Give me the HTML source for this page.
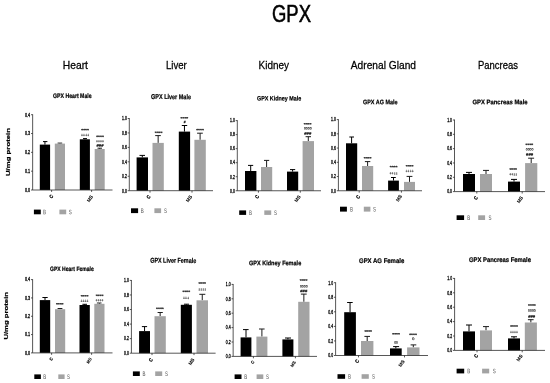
<!DOCTYPE html>
<html lang="en"><head><meta charset="utf-8"><title>GPX</title>
<style>html,body{margin:0;padding:0;background:#fff}svg{display:block}text{font-family:"Liberation Sans",sans-serif}.b{font-weight:bold}</style></head><body>
<svg width="550" height="383" viewBox="0 0 550 383">
<rect width="550" height="383" fill="#fff"/>
<text x="272.00" y="22.00" font-size="23" text-anchor="start" fill="#000" textLength="39.00" lengthAdjust="spacingAndGlyphs" stroke="#000" stroke-width="0.55">GPX</text>
<text x="62.80" y="69.20" font-size="11.8" text-anchor="start" fill="#000" textLength="25.20" lengthAdjust="spacingAndGlyphs" stroke="#000" stroke-width="0.28">Heart</text>
<text x="166.00" y="69.20" font-size="11.8" text-anchor="start" fill="#000" textLength="20.80" lengthAdjust="spacingAndGlyphs" stroke="#000" stroke-width="0.28">Liver</text>
<text x="258.60" y="69.20" font-size="11.8" text-anchor="start" fill="#000" textLength="30.40" lengthAdjust="spacingAndGlyphs" stroke="#000" stroke-width="0.28">Kidney</text>
<text x="350.80" y="69.20" font-size="11.8" text-anchor="start" fill="#000" textLength="65.20" lengthAdjust="spacingAndGlyphs" stroke="#000" stroke-width="0.28">Adrenal Gland</text>
<text x="478.00" y="69.20" font-size="11.8" text-anchor="start" fill="#000" textLength="40.00" lengthAdjust="spacingAndGlyphs" stroke="#000" stroke-width="0.28">Pancreas</text>
<text x="53.00" y="98.08" font-size="6.6" text-anchor="start" fill="#000" transform="rotate(0.05 53.00 98.08)" class="b" textLength="38.60" lengthAdjust="spacingAndGlyphs" stroke="#000" stroke-width="0.22">GPX Heart Male</text>
<path d="M44.95 144.60V141.60M43.00 141.60H47.40" stroke="#000" stroke-width="1" fill="none"/>
<rect x="39.80" y="144.60" width="10.30" height="45.40" fill="#000"/>
<path d="M59.90 143.60V143.10M57.60 143.10H62.20" stroke="#1c1c1c" stroke-width="1" fill="none"/>
<rect x="54.80" y="143.60" width="10.20" height="46.40" fill="#a3a3a3"/>
<path d="M84.85 139.30V138.60M83.00 138.60H87.00" stroke="#000" stroke-width="1" fill="none"/>
<rect x="79.80" y="139.30" width="10.10" height="50.70" fill="#000"/>
<path d="M99.70 149.00V148.20M97.50 148.20H102.00" stroke="#1c1c1c" stroke-width="1" fill="none"/>
<rect x="94.70" y="149.00" width="10.00" height="41.00" fill="#a3a3a3"/>
<path d="M32.65 114.30V190.00H112.50M31.05 190.00H32.65M31.05 171.18H32.65M31.05 152.35H32.65M31.05 133.53H32.65M31.05 114.70H32.65M51.60 190.00V191.90M91.60 190.00V191.90" stroke="#262626" stroke-width="0.78" fill="none"/>
<text x="30.15" y="191.80" font-size="5.0" text-anchor="end" fill="#000" textLength="5.20" lengthAdjust="spacingAndGlyphs" stroke="#000" stroke-width="0.3">0.0</text>
<text x="30.15" y="172.98" font-size="5.0" text-anchor="end" fill="#000" textLength="5.20" lengthAdjust="spacingAndGlyphs" stroke="#000" stroke-width="0.3">0.1</text>
<text x="30.15" y="154.15" font-size="5.0" text-anchor="end" fill="#000" textLength="5.20" lengthAdjust="spacingAndGlyphs" stroke="#000" stroke-width="0.3">0.2</text>
<text x="30.15" y="135.33" font-size="5.0" text-anchor="end" fill="#000" textLength="5.20" lengthAdjust="spacingAndGlyphs" stroke="#000" stroke-width="0.3">0.3</text>
<text x="30.15" y="116.50" font-size="5.0" text-anchor="end" fill="#000" textLength="5.20" lengthAdjust="spacingAndGlyphs" stroke="#000" stroke-width="0.3">0.4</text>
<text transform="translate(51.30 196.50) rotate(-55) scale(1.0)" font-size="5" class="b" text-anchor="middle" fill="#000" stroke="#000" stroke-width="0.22" textLength="3.2" lengthAdjust="spacingAndGlyphs" y="1.8">C</text>
<text transform="translate(89.80 198.60) rotate(-58) scale(1.0)" font-size="4.8" class="b" text-anchor="middle" fill="#000" stroke="#000" stroke-width="0.1" textLength="7" lengthAdjust="spacingAndGlyphs" y="1.7">MS</text>
<text x="85.10" y="131.81" font-size="4.4" text-anchor="middle" fill="#222" transform="rotate(0.05 85.10 131.81)" class="b" textLength="7.60" lengthAdjust="spacingAndGlyphs" stroke="#222" stroke-width="0.15">****</text>
<text transform="rotate(0.05 85.10 135.74)" x="81.30" y="135.74" font-size="2.9" fill="#333" stroke="#333" stroke-width="0.08" class="b" style="font-family:'Liberation Serif',serif" textLength="7.6" lengthAdjust="spacing">‡‡‡‡</text>
<text x="100.00" y="138.61" font-size="4.4" text-anchor="middle" fill="#222" transform="rotate(0.05 100.00 138.61)" class="b" textLength="7.60" lengthAdjust="spacingAndGlyphs" stroke="#222" stroke-width="0.15">****</text>
<text transform="rotate(0.05 100.00 142.04)" x="96.20" y="142.04" font-size="2.9" fill="#333" stroke="#333" stroke-width="0.08" class="b" style="font-family:'Liberation Serif',serif" textLength="7.6" lengthAdjust="spacing">‡‡‡‡</text>
<text x="100.00" y="146.52" font-size="3.3" text-anchor="middle" fill="#222" transform="rotate(0.05 100.00 146.52)" class="b" textLength="7.00" lengthAdjust="spacingAndGlyphs" stroke="#222" stroke-width="0.25">###</text>
<rect x="33.90" y="209.60" width="6.90" height="4.70" fill="#000"/>
<rect x="59.40" y="209.60" width="6.80" height="4.70" fill="#a3a3a3"/>
<text x="44.50" y="214.25" font-size="6.5" text-anchor="middle" fill="#555" transform="rotate(0.05 44.50 214.25)" textLength="3.00" lengthAdjust="spacingAndGlyphs">B</text>
<text x="70.20" y="214.25" font-size="6.5" text-anchor="middle" fill="#555" transform="rotate(0.05 70.20 214.25)" textLength="3.00" lengthAdjust="spacingAndGlyphs">S</text>
<text x="151.00" y="99.12" font-size="7.0" text-anchor="start" fill="#000" transform="rotate(0.05 151.00 99.12)" class="b" textLength="40.00" lengthAdjust="spacingAndGlyphs" stroke="#000" stroke-width="0.22">GPX Liver Male</text>
<path d="M142.30 157.40V155.40M139.50 155.40H145.00" stroke="#000" stroke-width="1" fill="none"/>
<rect x="136.60" y="157.40" width="11.40" height="33.30" fill="#000"/>
<path d="M158.15 142.90V135.60M155.20 135.60H160.80" stroke="#1c1c1c" stroke-width="1" fill="none"/>
<rect x="152.50" y="142.90" width="11.30" height="47.80" fill="#a3a3a3"/>
<path d="M184.45 131.60V125.50M181.80 125.50H187.20" stroke="#000" stroke-width="1" fill="none"/>
<rect x="178.80" y="131.60" width="11.30" height="59.10" fill="#000"/>
<path d="M200.10 139.80V133.20M197.10 133.20H202.80" stroke="#1c1c1c" stroke-width="1" fill="none"/>
<rect x="194.40" y="139.80" width="11.40" height="50.90" fill="#a3a3a3"/>
<path d="M129.30 118.10V190.70H213.00M127.70 190.70H129.30M127.70 176.26H129.30M127.70 161.82H129.30M127.70 147.38H129.30M127.70 132.94H129.30M127.70 118.50H129.30M150.00 190.70V192.60M192.00 190.70V192.60" stroke="#262626" stroke-width="0.78" fill="none"/>
<text x="126.80" y="192.50" font-size="5.0" text-anchor="end" fill="#000" textLength="4.80" lengthAdjust="spacingAndGlyphs" stroke="#000" stroke-width="0.3">0.0</text>
<text x="126.80" y="178.06" font-size="5.0" text-anchor="end" fill="#000" textLength="4.80" lengthAdjust="spacingAndGlyphs" stroke="#000" stroke-width="0.3">0.2</text>
<text x="126.80" y="163.62" font-size="5.0" text-anchor="end" fill="#000" textLength="4.80" lengthAdjust="spacingAndGlyphs" stroke="#000" stroke-width="0.3">0.4</text>
<text x="126.80" y="149.18" font-size="5.0" text-anchor="end" fill="#000" textLength="4.80" lengthAdjust="spacingAndGlyphs" stroke="#000" stroke-width="0.3">0.6</text>
<text x="126.80" y="134.74" font-size="5.0" text-anchor="end" fill="#000" textLength="4.80" lengthAdjust="spacingAndGlyphs" stroke="#000" stroke-width="0.3">0.8</text>
<text x="126.80" y="120.30" font-size="5.0" text-anchor="end" fill="#000" textLength="4.80" lengthAdjust="spacingAndGlyphs" stroke="#000" stroke-width="0.3">1.0</text>
<text transform="translate(148.50 196.80) rotate(-55) scale(1.0)" font-size="5" class="b" text-anchor="middle" fill="#000" stroke="#000" stroke-width="0.22" textLength="3.2" lengthAdjust="spacingAndGlyphs" y="1.8">C</text>
<text transform="translate(189.00 198.60) rotate(-58) scale(1.0)" font-size="4.8" class="b" text-anchor="middle" fill="#000" stroke="#000" stroke-width="0.1" textLength="7" lengthAdjust="spacingAndGlyphs" y="1.7">MS</text>
<text x="158.60" y="134.41" font-size="4.4" text-anchor="middle" fill="#222" transform="rotate(0.05 158.60 134.41)" class="b" textLength="7.60" lengthAdjust="spacingAndGlyphs" stroke="#222" stroke-width="0.15">****</text>
<text x="184.40" y="120.01" font-size="4.4" text-anchor="middle" fill="#222" transform="rotate(0.05 184.40 120.01)" class="b" textLength="7.60" lengthAdjust="spacingAndGlyphs" stroke="#222" stroke-width="0.15">****</text>
<text x="184.60" y="123.12" font-size="3.3" text-anchor="middle" fill="#222" transform="rotate(0.05 184.60 123.12)" class="b" stroke="#222" stroke-width="0.25">#</text>
<text x="200.00" y="131.81" font-size="4.4" text-anchor="middle" fill="#222" transform="rotate(0.05 200.00 131.81)" class="b" textLength="7.60" lengthAdjust="spacingAndGlyphs" stroke="#222" stroke-width="0.15">****</text>
<rect x="131.00" y="208.30" width="7.10" height="4.80" fill="#000"/>
<rect x="154.40" y="208.30" width="6.70" height="4.80" fill="#a3a3a3"/>
<text x="142.20" y="213.00" font-size="6.5" text-anchor="middle" fill="#555" transform="rotate(0.05 142.20 213.00)" textLength="3.00" lengthAdjust="spacingAndGlyphs">B</text>
<text x="165.60" y="213.00" font-size="6.5" text-anchor="middle" fill="#555" transform="rotate(0.05 165.60 213.00)" textLength="3.00" lengthAdjust="spacingAndGlyphs">S</text>
<text x="257.00" y="100.45" font-size="6.3" text-anchor="start" fill="#000" transform="rotate(0.05 257.00 100.45)" class="b" textLength="44.20" lengthAdjust="spacingAndGlyphs" stroke="#000" stroke-width="0.22">GPX Kidney Male</text>
<path d="M250.70 171.00V165.40M248.00 165.40H253.20" stroke="#000" stroke-width="1" fill="none"/>
<rect x="245.00" y="171.00" width="11.40" height="19.75" fill="#000"/>
<path d="M266.60 167.00V160.40M264.00 160.40H269.20" stroke="#1c1c1c" stroke-width="1" fill="none"/>
<rect x="261.00" y="167.00" width="11.20" height="23.75" fill="#a3a3a3"/>
<path d="M292.60 171.60V169.60M290.00 169.60H295.20" stroke="#000" stroke-width="1" fill="none"/>
<rect x="287.00" y="171.60" width="11.20" height="19.15" fill="#000"/>
<path d="M308.30 141.10V136.70M305.60 136.70H311.00" stroke="#1c1c1c" stroke-width="1" fill="none"/>
<rect x="302.60" y="141.10" width="11.40" height="49.65" fill="#a3a3a3"/>
<path d="M237.30 120.20V190.75H321.00M235.70 190.75H237.30M235.70 176.72H237.30M235.70 162.69H237.30M235.70 148.66H237.30M235.70 134.63H237.30M235.70 120.60H237.30M258.40 190.75V192.65M300.30 190.75V192.65" stroke="#262626" stroke-width="0.78" fill="none"/>
<text x="234.80" y="192.55" font-size="5.0" text-anchor="end" fill="#000" textLength="4.80" lengthAdjust="spacingAndGlyphs" stroke="#000" stroke-width="0.3">0.0</text>
<text x="234.80" y="178.52" font-size="5.0" text-anchor="end" fill="#000" textLength="4.80" lengthAdjust="spacingAndGlyphs" stroke="#000" stroke-width="0.3">0.2</text>
<text x="234.80" y="164.49" font-size="5.0" text-anchor="end" fill="#000" textLength="4.80" lengthAdjust="spacingAndGlyphs" stroke="#000" stroke-width="0.3">0.4</text>
<text x="234.80" y="150.46" font-size="5.0" text-anchor="end" fill="#000" textLength="4.80" lengthAdjust="spacingAndGlyphs" stroke="#000" stroke-width="0.3">0.6</text>
<text x="234.80" y="136.43" font-size="5.0" text-anchor="end" fill="#000" textLength="4.80" lengthAdjust="spacingAndGlyphs" stroke="#000" stroke-width="0.3">0.8</text>
<text x="234.80" y="122.40" font-size="5.0" text-anchor="end" fill="#000" textLength="4.80" lengthAdjust="spacingAndGlyphs" stroke="#000" stroke-width="0.3">1.0</text>
<text transform="translate(257.00 196.60) rotate(-55) scale(1.0)" font-size="5" class="b" text-anchor="middle" fill="#000" stroke="#000" stroke-width="0.22" textLength="3.2" lengthAdjust="spacingAndGlyphs" y="1.8">C</text>
<text transform="translate(297.50 198.60) rotate(-58) scale(1.0)" font-size="4.8" class="b" text-anchor="middle" fill="#000" stroke="#000" stroke-width="0.1" textLength="7" lengthAdjust="spacingAndGlyphs" y="1.7">MS</text>
<text x="307.60" y="126.11" font-size="4.4" text-anchor="middle" fill="#222" transform="rotate(0.05 307.60 126.11)" class="b" textLength="7.60" lengthAdjust="spacingAndGlyphs" stroke="#222" stroke-width="0.15">****</text>
<text x="307.80" y="129.59" font-size="4.5" text-anchor="middle" fill="#222" transform="rotate(0.05 307.80 129.59)" textLength="7.80" lengthAdjust="spacingAndGlyphs" stroke="#222" stroke-width="0.18">oooo</text>
<text x="307.80" y="134.42" font-size="3.3" text-anchor="middle" fill="#222" transform="rotate(0.05 307.80 134.42)" class="b" textLength="7.00" lengthAdjust="spacingAndGlyphs" stroke="#222" stroke-width="0.25">###</text>
<rect x="239.20" y="210.40" width="6.90" height="4.50" fill="#000"/>
<rect x="264.30" y="210.40" width="6.90" height="4.50" fill="#a3a3a3"/>
<text x="250.50" y="214.95" font-size="6.5" text-anchor="middle" fill="#555" transform="rotate(0.05 250.50 214.95)" textLength="3.00" lengthAdjust="spacingAndGlyphs">B</text>
<text x="275.60" y="214.95" font-size="6.5" text-anchor="middle" fill="#555" transform="rotate(0.05 275.60 214.95)" textLength="3.00" lengthAdjust="spacingAndGlyphs">S</text>
<text x="363.00" y="104.25" font-size="6.5" text-anchor="start" fill="#000" transform="rotate(0.05 363.00 104.25)" class="b" textLength="34.60" lengthAdjust="spacingAndGlyphs" stroke="#000" stroke-width="0.22">GPX AG Male</text>
<path d="M351.60 143.30V137.00M349.30 137.00H354.00" stroke="#000" stroke-width="1" fill="none"/>
<rect x="346.00" y="143.30" width="11.20" height="47.45" fill="#000"/>
<path d="M367.60 166.00V161.60M364.90 161.60H370.30" stroke="#1c1c1c" stroke-width="1" fill="none"/>
<rect x="362.00" y="166.00" width="11.20" height="24.75" fill="#a3a3a3"/>
<path d="M393.50 180.60V177.50M391.00 177.50H395.80" stroke="#000" stroke-width="1" fill="none"/>
<rect x="388.10" y="180.60" width="10.80" height="10.15" fill="#000"/>
<path d="M409.50 181.90V176.40M406.60 176.40H412.40" stroke="#1c1c1c" stroke-width="1" fill="none"/>
<rect x="404.00" y="181.90" width="11.00" height="8.85" fill="#a3a3a3"/>
<path d="M338.40 119.20V190.75H422.00M336.80 190.75H338.40M336.80 176.52H338.40M336.80 162.29H338.40M336.80 148.06H338.40M336.80 133.83H338.40M336.80 119.60H338.40M359.20 190.75V192.65M401.40 190.75V192.65" stroke="#262626" stroke-width="0.78" fill="none"/>
<text x="335.90" y="192.55" font-size="5.0" text-anchor="end" fill="#000" textLength="4.80" lengthAdjust="spacingAndGlyphs" stroke="#000" stroke-width="0.3">0.0</text>
<text x="335.90" y="178.32" font-size="5.0" text-anchor="end" fill="#000" textLength="4.80" lengthAdjust="spacingAndGlyphs" stroke="#000" stroke-width="0.3">0.2</text>
<text x="335.90" y="164.09" font-size="5.0" text-anchor="end" fill="#000" textLength="4.80" lengthAdjust="spacingAndGlyphs" stroke="#000" stroke-width="0.3">0.4</text>
<text x="335.90" y="149.86" font-size="5.0" text-anchor="end" fill="#000" textLength="4.80" lengthAdjust="spacingAndGlyphs" stroke="#000" stroke-width="0.3">0.6</text>
<text x="335.90" y="135.63" font-size="5.0" text-anchor="end" fill="#000" textLength="4.80" lengthAdjust="spacingAndGlyphs" stroke="#000" stroke-width="0.3">0.8</text>
<text x="335.90" y="121.40" font-size="5.0" text-anchor="end" fill="#000" textLength="4.80" lengthAdjust="spacingAndGlyphs" stroke="#000" stroke-width="0.3">1.0</text>
<text transform="translate(358.00 196.80) rotate(-55) scale(1.0)" font-size="5" class="b" text-anchor="middle" fill="#000" stroke="#000" stroke-width="0.22" textLength="3.2" lengthAdjust="spacingAndGlyphs" y="1.8">C</text>
<text transform="translate(398.80 198.20) rotate(-58) scale(1.0)" font-size="4.8" class="b" text-anchor="middle" fill="#000" stroke="#000" stroke-width="0.1" textLength="7" lengthAdjust="spacingAndGlyphs" y="1.7">MS</text>
<text x="367.60" y="160.11" font-size="4.4" text-anchor="middle" fill="#222" transform="rotate(0.05 367.60 160.11)" class="b" textLength="7.60" lengthAdjust="spacingAndGlyphs" stroke="#222" stroke-width="0.15">****</text>
<text x="393.60" y="168.71" font-size="4.4" text-anchor="middle" fill="#222" transform="rotate(0.05 393.60 168.71)" class="b" textLength="7.60" lengthAdjust="spacingAndGlyphs" stroke="#222" stroke-width="0.15">****</text>
<text transform="rotate(0.05 393.60 174.14)" x="389.80" y="174.14" font-size="2.9" fill="#333" stroke="#333" stroke-width="0.08" class="b" style="font-family:'Liberation Serif',serif" textLength="7.6" lengthAdjust="spacing">‡‡‡‡</text>
<text x="409.60" y="168.01" font-size="4.4" text-anchor="middle" fill="#222" transform="rotate(0.05 409.60 168.01)" class="b" textLength="7.60" lengthAdjust="spacingAndGlyphs" stroke="#222" stroke-width="0.15">****</text>
<text transform="rotate(0.05 409.60 171.74)" x="405.80" y="171.74" font-size="2.9" fill="#333" stroke="#333" stroke-width="0.08" class="b" style="font-family:'Liberation Serif',serif" textLength="7.6" lengthAdjust="spacing">‡‡‡‡</text>
<rect x="340.00" y="206.70" width="6.90" height="4.90" fill="#000"/>
<rect x="363.80" y="206.70" width="6.60" height="4.90" fill="#a3a3a3"/>
<text x="351.50" y="211.45" font-size="6.5" text-anchor="middle" fill="#555" transform="rotate(0.05 351.50 211.45)" textLength="3.00" lengthAdjust="spacingAndGlyphs">B</text>
<text x="374.50" y="211.45" font-size="6.5" text-anchor="middle" fill="#555" transform="rotate(0.05 374.50 211.45)" textLength="3.00" lengthAdjust="spacingAndGlyphs">S</text>
<text x="472.40" y="104.25" font-size="6.6" text-anchor="start" fill="#000" transform="rotate(0.05 472.40 104.25)" class="b" textLength="55.20" lengthAdjust="spacingAndGlyphs" stroke="#000" stroke-width="0.22">GPX Pancreas Male</text>
<path d="M469.00 174.00V172.40M466.00 172.40H472.00" stroke="#000" stroke-width="1" fill="none"/>
<rect x="463.00" y="174.00" width="12.00" height="17.60" fill="#000"/>
<path d="M486.00 174.00V170.40M483.00 170.40H489.00" stroke="#1c1c1c" stroke-width="1" fill="none"/>
<rect x="480.00" y="174.00" width="12.00" height="17.60" fill="#a3a3a3"/>
<path d="M514.00 181.60V179.40M511.00 179.40H517.00" stroke="#000" stroke-width="1" fill="none"/>
<rect x="508.00" y="181.60" width="12.00" height="10.00" fill="#000"/>
<path d="M531.20 163.10V158.20M528.10 158.20H534.10" stroke="#1c1c1c" stroke-width="1" fill="none"/>
<rect x="525.10" y="163.10" width="12.20" height="28.50" fill="#a3a3a3"/>
<path d="M454.50 119.60V191.60H545.00M452.90 191.60H454.50M452.90 177.28H454.50M452.90 162.96H454.50M452.90 148.64H454.50M452.90 134.32H454.50M452.90 120.00H454.50M476.80 191.60V193.50M522.20 191.60V193.50" stroke="#262626" stroke-width="0.78" fill="none"/>
<text x="452.00" y="193.40" font-size="5.0" text-anchor="end" fill="#000" textLength="4.80" lengthAdjust="spacingAndGlyphs" stroke="#000" stroke-width="0.3">0.0</text>
<text x="452.00" y="179.08" font-size="5.0" text-anchor="end" fill="#000" textLength="4.80" lengthAdjust="spacingAndGlyphs" stroke="#000" stroke-width="0.3">0.2</text>
<text x="452.00" y="164.76" font-size="5.0" text-anchor="end" fill="#000" textLength="4.80" lengthAdjust="spacingAndGlyphs" stroke="#000" stroke-width="0.3">0.4</text>
<text x="452.00" y="150.44" font-size="5.0" text-anchor="end" fill="#000" textLength="4.80" lengthAdjust="spacingAndGlyphs" stroke="#000" stroke-width="0.3">0.6</text>
<text x="452.00" y="136.12" font-size="5.0" text-anchor="end" fill="#000" textLength="4.80" lengthAdjust="spacingAndGlyphs" stroke="#000" stroke-width="0.3">0.8</text>
<text x="452.00" y="121.80" font-size="5.0" text-anchor="end" fill="#000" textLength="4.80" lengthAdjust="spacingAndGlyphs" stroke="#000" stroke-width="0.3">1.0</text>
<text transform="translate(475.80 198.00) rotate(-55) scale(1.0)" font-size="5" class="b" text-anchor="middle" fill="#000" stroke="#000" stroke-width="0.22" textLength="3.2" lengthAdjust="spacingAndGlyphs" y="1.8">C</text>
<text transform="translate(519.80 199.60) rotate(-58) scale(1.0)" font-size="4.8" class="b" text-anchor="middle" fill="#000" stroke="#000" stroke-width="0.1" textLength="7" lengthAdjust="spacingAndGlyphs" y="1.7">MS</text>
<text x="513.20" y="171.31" font-size="4.4" text-anchor="middle" fill="#222" transform="rotate(0.05 513.20 171.31)" class="b" textLength="7.60" lengthAdjust="spacingAndGlyphs" stroke="#222" stroke-width="0.15">****</text>
<text transform="rotate(0.05 513.20 175.14)" x="509.40" y="175.14" font-size="2.9" fill="#333" stroke="#333" stroke-width="0.08" class="b" style="font-family:'Liberation Serif',serif" textLength="7.6" lengthAdjust="spacing">‡‡‡‡</text>
<text x="529.40" y="146.51" font-size="4.4" text-anchor="middle" fill="#222" transform="rotate(0.05 529.40 146.51)" class="b" textLength="7.60" lengthAdjust="spacingAndGlyphs" stroke="#222" stroke-width="0.15">****</text>
<text x="529.60" y="150.49" font-size="4.5" text-anchor="middle" fill="#222" transform="rotate(0.05 529.60 150.49)" textLength="7.80" lengthAdjust="spacingAndGlyphs" stroke="#222" stroke-width="0.18">oooo</text>
<text x="529.60" y="155.62" font-size="3.3" text-anchor="middle" fill="#222" transform="rotate(0.05 529.60 155.62)" class="b" textLength="7.00" lengthAdjust="spacingAndGlyphs" stroke="#222" stroke-width="0.25">###</text>
<rect x="456.60" y="215.30" width="7.50" height="4.70" fill="#000"/>
<rect x="478.20" y="215.30" width="6.90" height="4.70" fill="#a3a3a3"/>
<text x="468.70" y="219.95" font-size="6.5" text-anchor="middle" fill="#555" transform="rotate(0.05 468.70 219.95)" textLength="3.00" lengthAdjust="spacingAndGlyphs">B</text>
<text x="489.90" y="219.95" font-size="6.5" text-anchor="middle" fill="#555" transform="rotate(0.05 489.90 219.95)" textLength="3.00" lengthAdjust="spacingAndGlyphs">S</text>
<text x="50.00" y="271.00" font-size="6.3" text-anchor="start" fill="#000" transform="rotate(0.05 50.00 271.00)" class="b" textLength="43.80" lengthAdjust="spacingAndGlyphs" stroke="#000" stroke-width="0.22">GPX Heart Female</text>
<path d="M45.00 300.10V297.50M42.40 297.50H47.70" stroke="#000" stroke-width="1" fill="none"/>
<rect x="39.80" y="300.10" width="10.40" height="52.80" fill="#000"/>
<path d="M60.10 309.20V308.50M57.60 308.50H62.40" stroke="#1c1c1c" stroke-width="1" fill="none"/>
<rect x="55.00" y="309.20" width="10.20" height="43.70" fill="#a3a3a3"/>
<path d="M84.65 305.00V304.30M82.40 304.30H87.00" stroke="#000" stroke-width="1" fill="none"/>
<rect x="79.50" y="305.00" width="10.30" height="47.90" fill="#000"/>
<path d="M99.40 303.80V303.00M96.90 303.00H101.50" stroke="#1c1c1c" stroke-width="1" fill="none"/>
<rect x="94.30" y="303.80" width="10.20" height="49.10" fill="#a3a3a3"/>
<path d="M32.60 279.20V352.90H112.50M31.00 352.90H32.60M31.00 334.57H32.60M31.00 316.25H32.60M31.00 297.93H32.60M31.00 279.60H32.60M51.60 352.90V354.80M91.60 352.90V354.80" stroke="#262626" stroke-width="0.78" fill="none"/>
<text x="30.10" y="354.70" font-size="5.0" text-anchor="end" fill="#000" textLength="5.20" lengthAdjust="spacingAndGlyphs" stroke="#000" stroke-width="0.3">0.0</text>
<text x="30.10" y="336.38" font-size="5.0" text-anchor="end" fill="#000" textLength="5.20" lengthAdjust="spacingAndGlyphs" stroke="#000" stroke-width="0.3">0.1</text>
<text x="30.10" y="318.05" font-size="5.0" text-anchor="end" fill="#000" textLength="5.20" lengthAdjust="spacingAndGlyphs" stroke="#000" stroke-width="0.3">0.2</text>
<text x="30.10" y="299.73" font-size="5.0" text-anchor="end" fill="#000" textLength="5.20" lengthAdjust="spacingAndGlyphs" stroke="#000" stroke-width="0.3">0.3</text>
<text x="30.10" y="281.40" font-size="5.0" text-anchor="end" fill="#000" textLength="5.20" lengthAdjust="spacingAndGlyphs" stroke="#000" stroke-width="0.3">0.4</text>
<text transform="translate(51.00 359.00) rotate(-55) scale(0.85)" font-size="5" class="b" text-anchor="middle" fill="#000" stroke="#000" stroke-width="0.22" textLength="3.2" lengthAdjust="spacingAndGlyphs" y="1.8">C</text>
<text transform="translate(89.10 360.60) rotate(-58) scale(0.85)" font-size="4.8" class="b" text-anchor="middle" fill="#000" stroke="#000" stroke-width="0.1" textLength="7" lengthAdjust="spacingAndGlyphs" y="1.7">MS</text>
<text x="59.70" y="306.01" font-size="4.4" text-anchor="middle" fill="#222" transform="rotate(0.05 59.70 306.01)" class="b" textLength="7.60" lengthAdjust="spacingAndGlyphs" stroke="#222" stroke-width="0.15">****</text>
<text x="84.50" y="298.01" font-size="4.4" text-anchor="middle" fill="#222" transform="rotate(0.05 84.50 298.01)" class="b" textLength="7.60" lengthAdjust="spacingAndGlyphs" stroke="#222" stroke-width="0.15">****</text>
<text transform="rotate(0.05 84.50 301.54)" x="80.70" y="301.54" font-size="2.9" fill="#333" stroke="#333" stroke-width="0.08" class="b" style="font-family:'Liberation Serif',serif" textLength="7.6" lengthAdjust="spacing">‡‡‡‡</text>
<text x="99.50" y="297.41" font-size="4.4" text-anchor="middle" fill="#222" transform="rotate(0.05 99.50 297.41)" class="b" textLength="7.60" lengthAdjust="spacingAndGlyphs" stroke="#222" stroke-width="0.15">****</text>
<text transform="rotate(0.05 99.50 300.94)" x="95.70" y="300.94" font-size="2.9" fill="#333" stroke="#333" stroke-width="0.08" class="b" style="font-family:'Liberation Serif',serif" textLength="7.6" lengthAdjust="spacing">‡‡‡‡</text>
<rect x="34.30" y="374.40" width="6.60" height="4.60" fill="#000"/>
<rect x="58.30" y="374.40" width="6.30" height="4.60" fill="#a3a3a3"/>
<text x="44.80" y="379.00" font-size="6.5" text-anchor="middle" fill="#555" transform="rotate(0.05 44.80 379.00)" textLength="3.00" lengthAdjust="spacingAndGlyphs">B</text>
<text x="68.40" y="379.00" font-size="6.5" text-anchor="middle" fill="#555" transform="rotate(0.05 68.40 379.00)" textLength="3.00" lengthAdjust="spacingAndGlyphs">S</text>
<text x="150.20" y="262.85" font-size="7.0" text-anchor="start" fill="#000" transform="rotate(0.05 150.20 262.85)" class="b" textLength="46.00" lengthAdjust="spacingAndGlyphs" stroke="#000" stroke-width="0.22">GPX Liver Female</text>
<path d="M144.55 331.10V326.60M141.90 326.60H147.10" stroke="#000" stroke-width="1" fill="none"/>
<rect x="139.10" y="331.10" width="10.90" height="22.10" fill="#000"/>
<path d="M160.15 316.20V312.50M157.60 312.50H162.80" stroke="#1c1c1c" stroke-width="1" fill="none"/>
<rect x="154.50" y="316.20" width="11.30" height="37.00" fill="#a3a3a3"/>
<path d="M186.35 304.80V304.20M184.00 304.20H189.00" stroke="#000" stroke-width="1" fill="none"/>
<rect x="180.80" y="304.80" width="11.10" height="48.40" fill="#000"/>
<path d="M202.25 300.30V294.30M199.30 294.30H205.30" stroke="#1c1c1c" stroke-width="1" fill="none"/>
<rect x="196.50" y="300.30" width="11.50" height="52.90" fill="#a3a3a3"/>
<path d="M131.40 280.00V353.20H215.60M129.80 353.20H131.40M129.80 338.64H131.40M129.80 324.08H131.40M129.80 309.52H131.40M129.80 294.96H131.40M129.80 280.40H131.40M152.00 353.20V355.10M194.00 353.20V355.10" stroke="#262626" stroke-width="0.78" fill="none"/>
<text x="128.90" y="355.00" font-size="5.0" text-anchor="end" fill="#000" textLength="4.80" lengthAdjust="spacingAndGlyphs" stroke="#000" stroke-width="0.3">0.0</text>
<text x="128.90" y="340.44" font-size="5.0" text-anchor="end" fill="#000" textLength="4.80" lengthAdjust="spacingAndGlyphs" stroke="#000" stroke-width="0.3">0.2</text>
<text x="128.90" y="325.88" font-size="5.0" text-anchor="end" fill="#000" textLength="4.80" lengthAdjust="spacingAndGlyphs" stroke="#000" stroke-width="0.3">0.4</text>
<text x="128.90" y="311.32" font-size="5.0" text-anchor="end" fill="#000" textLength="4.80" lengthAdjust="spacingAndGlyphs" stroke="#000" stroke-width="0.3">0.6</text>
<text x="128.90" y="296.76" font-size="5.0" text-anchor="end" fill="#000" textLength="4.80" lengthAdjust="spacingAndGlyphs" stroke="#000" stroke-width="0.3">0.8</text>
<text x="128.90" y="282.20" font-size="5.0" text-anchor="end" fill="#000" textLength="4.80" lengthAdjust="spacingAndGlyphs" stroke="#000" stroke-width="0.3">1.0</text>
<text transform="translate(150.70 359.90) rotate(-55) scale(1.0)" font-size="5" class="b" text-anchor="middle" fill="#000" stroke="#000" stroke-width="0.22" textLength="3.2" lengthAdjust="spacingAndGlyphs" y="1.8">C</text>
<text transform="translate(191.40 361.60) rotate(-58) scale(1.0)" font-size="4.8" class="b" text-anchor="middle" fill="#000" stroke="#000" stroke-width="0.1" textLength="7" lengthAdjust="spacingAndGlyphs" y="1.7">MS</text>
<text x="159.90" y="310.61" font-size="4.4" text-anchor="middle" fill="#222" transform="rotate(0.05 159.90 310.61)" class="b" textLength="7.60" lengthAdjust="spacingAndGlyphs" stroke="#222" stroke-width="0.15">****</text>
<text x="186.30" y="293.61" font-size="4.4" text-anchor="middle" fill="#222" transform="rotate(0.05 186.30 293.61)" class="b" textLength="7.60" lengthAdjust="spacingAndGlyphs" stroke="#222" stroke-width="0.15">****</text>
<text transform="rotate(0.05 186.10 298.64)" x="183.25" y="298.64" font-size="2.9" fill="#333" stroke="#333" stroke-width="0.08" class="b" style="font-family:'Liberation Serif',serif" textLength="5.7" lengthAdjust="spacing">‡‡‡</text>
<text x="202.20" y="285.31" font-size="4.4" text-anchor="middle" fill="#222" transform="rotate(0.05 202.20 285.31)" class="b" textLength="7.60" lengthAdjust="spacingAndGlyphs" stroke="#222" stroke-width="0.15">****</text>
<text transform="rotate(0.05 202.20 290.24)" x="198.40" y="290.24" font-size="2.9" fill="#333" stroke="#333" stroke-width="0.08" class="b" style="font-family:'Liberation Serif',serif" textLength="7.6" lengthAdjust="spacing">‡‡‡‡</text>
<rect x="132.90" y="371.40" width="6.90" height="4.60" fill="#000"/>
<rect x="155.20" y="371.40" width="7.00" height="4.60" fill="#a3a3a3"/>
<text x="144.10" y="376.00" font-size="6.5" text-anchor="middle" fill="#555" transform="rotate(0.05 144.10 376.00)" textLength="3.00" lengthAdjust="spacingAndGlyphs">B</text>
<text x="166.40" y="376.00" font-size="6.5" text-anchor="middle" fill="#555" transform="rotate(0.05 166.40 376.00)" textLength="3.00" lengthAdjust="spacingAndGlyphs">S</text>
<text x="249.00" y="265.25" font-size="6.6" text-anchor="start" fill="#000" transform="rotate(0.05 249.00 265.25)" class="b" textLength="52.20" lengthAdjust="spacingAndGlyphs" stroke="#000" stroke-width="0.22">GPX Kidney Female</text>
<path d="M246.00 337.40V329.60M243.00 329.60H248.60" stroke="#000" stroke-width="1" fill="none"/>
<rect x="240.60" y="337.40" width="10.80" height="19.00" fill="#000"/>
<path d="M261.90 336.60V329.00M259.00 329.00H264.60" stroke="#1c1c1c" stroke-width="1" fill="none"/>
<rect x="256.40" y="336.60" width="11.00" height="19.80" fill="#a3a3a3"/>
<path d="M287.90 339.40V338.00M285.00 338.00H291.00" stroke="#000" stroke-width="1" fill="none"/>
<rect x="282.40" y="339.40" width="11.00" height="17.00" fill="#000"/>
<path d="M303.85 301.80V294.10M300.90 294.10H306.70" stroke="#1c1c1c" stroke-width="1" fill="none"/>
<rect x="298.20" y="301.80" width="11.30" height="54.60" fill="#a3a3a3"/>
<path d="M233.15 284.00V356.40H317.00M231.55 356.40H233.15M231.55 342.00H233.15M231.55 327.60H233.15M231.55 313.20H233.15M231.55 298.80H233.15M231.55 284.40H233.15M253.40 356.40V358.30M295.40 356.40V358.30" stroke="#262626" stroke-width="0.78" fill="none"/>
<text x="230.65" y="358.20" font-size="5.0" text-anchor="end" fill="#000" textLength="4.80" lengthAdjust="spacingAndGlyphs" stroke="#000" stroke-width="0.3">0.0</text>
<text x="230.65" y="343.80" font-size="5.0" text-anchor="end" fill="#000" textLength="4.80" lengthAdjust="spacingAndGlyphs" stroke="#000" stroke-width="0.3">0.2</text>
<text x="230.65" y="329.40" font-size="5.0" text-anchor="end" fill="#000" textLength="4.80" lengthAdjust="spacingAndGlyphs" stroke="#000" stroke-width="0.3">0.4</text>
<text x="230.65" y="315.00" font-size="5.0" text-anchor="end" fill="#000" textLength="4.80" lengthAdjust="spacingAndGlyphs" stroke="#000" stroke-width="0.3">0.6</text>
<text x="230.65" y="300.60" font-size="5.0" text-anchor="end" fill="#000" textLength="4.80" lengthAdjust="spacingAndGlyphs" stroke="#000" stroke-width="0.3">0.8</text>
<text x="230.65" y="286.20" font-size="5.0" text-anchor="end" fill="#000" textLength="4.80" lengthAdjust="spacingAndGlyphs" stroke="#000" stroke-width="0.3">1.0</text>
<text transform="translate(252.40 362.30) rotate(-55) scale(0.88)" font-size="5" class="b" text-anchor="middle" fill="#000" stroke="#000" stroke-width="0.22" textLength="3.2" lengthAdjust="spacingAndGlyphs" y="1.8">C</text>
<text transform="translate(293.10 364.00) rotate(-58) scale(0.88)" font-size="4.8" class="b" text-anchor="middle" fill="#000" stroke="#000" stroke-width="0.1" textLength="7" lengthAdjust="spacingAndGlyphs" y="1.7">MS</text>
<text x="303.60" y="282.31" font-size="4.4" text-anchor="middle" fill="#222" transform="rotate(0.05 303.60 282.31)" class="b" textLength="7.60" lengthAdjust="spacingAndGlyphs" stroke="#222" stroke-width="0.15">****</text>
<text x="303.80" y="287.59" font-size="4.5" text-anchor="middle" fill="#222" transform="rotate(0.05 303.80 287.59)" textLength="7.80" lengthAdjust="spacingAndGlyphs" stroke="#222" stroke-width="0.18">oooo</text>
<text x="303.80" y="292.12" font-size="3.3" text-anchor="middle" fill="#222" transform="rotate(0.05 303.80 292.12)" class="b" textLength="7.00" lengthAdjust="spacingAndGlyphs" stroke="#222" stroke-width="0.25">###</text>
<rect x="234.60" y="374.40" width="6.90" height="4.60" fill="#000"/>
<rect x="256.60" y="374.40" width="6.70" height="4.60" fill="#a3a3a3"/>
<text x="245.70" y="379.00" font-size="6.5" text-anchor="middle" fill="#555" transform="rotate(0.05 245.70 379.00)" textLength="3.00" lengthAdjust="spacingAndGlyphs">B</text>
<text x="267.50" y="379.00" font-size="6.5" text-anchor="middle" fill="#555" transform="rotate(0.05 267.50 379.00)" textLength="3.00" lengthAdjust="spacingAndGlyphs">S</text>
<text x="359.00" y="263.05" font-size="6.8" text-anchor="start" fill="#000" transform="rotate(0.05 359.00 263.05)" class="b" textLength="45.20" lengthAdjust="spacingAndGlyphs" stroke="#000" stroke-width="0.22">GPX AG Female</text>
<path d="M350.05 312.20V302.50M347.10 302.50H352.70" stroke="#000" stroke-width="1" fill="none"/>
<rect x="344.20" y="312.20" width="11.70" height="43.30" fill="#000"/>
<path d="M367.20 341.00V336.40M364.40 336.40H370.00" stroke="#1c1c1c" stroke-width="1" fill="none"/>
<rect x="361.00" y="341.00" width="12.40" height="14.50" fill="#a3a3a3"/>
<path d="M395.85 348.40V346.60M393.10 346.60H399.10" stroke="#000" stroke-width="1" fill="none"/>
<rect x="390.00" y="348.40" width="11.70" height="7.10" fill="#000"/>
<path d="M413.30 347.40V344.90M410.60 344.90H416.30" stroke="#1c1c1c" stroke-width="1" fill="none"/>
<rect x="407.10" y="347.40" width="12.40" height="8.10" fill="#a3a3a3"/>
<path d="M335.60 282.30V355.50H428.00M334.00 355.50H335.60M334.00 340.94H335.60M334.00 326.38H335.60M334.00 311.82H335.60M334.00 297.26H335.60M334.00 282.70H335.60M358.50 355.50V357.40M404.50 355.50V357.40" stroke="#262626" stroke-width="0.78" fill="none"/>
<text x="333.10" y="357.30" font-size="5.0" text-anchor="end" fill="#000" textLength="4.80" lengthAdjust="spacingAndGlyphs" stroke="#000" stroke-width="0.3">0.0</text>
<text x="333.10" y="342.74" font-size="5.0" text-anchor="end" fill="#000" textLength="4.80" lengthAdjust="spacingAndGlyphs" stroke="#000" stroke-width="0.3">0.2</text>
<text x="333.10" y="328.18" font-size="5.0" text-anchor="end" fill="#000" textLength="4.80" lengthAdjust="spacingAndGlyphs" stroke="#000" stroke-width="0.3">0.4</text>
<text x="333.10" y="313.62" font-size="5.0" text-anchor="end" fill="#000" textLength="4.80" lengthAdjust="spacingAndGlyphs" stroke="#000" stroke-width="0.3">0.6</text>
<text x="333.10" y="299.06" font-size="5.0" text-anchor="end" fill="#000" textLength="4.80" lengthAdjust="spacingAndGlyphs" stroke="#000" stroke-width="0.3">0.8</text>
<text x="333.10" y="284.50" font-size="5.0" text-anchor="end" fill="#000" textLength="4.80" lengthAdjust="spacingAndGlyphs" stroke="#000" stroke-width="0.3">1.0</text>
<text transform="translate(357.00 361.20) rotate(-55) scale(1.0)" font-size="5" class="b" text-anchor="middle" fill="#000" stroke="#000" stroke-width="0.22" textLength="3.2" lengthAdjust="spacingAndGlyphs" y="1.8">C</text>
<text transform="translate(401.50 363.30) rotate(-58) scale(1.0)" font-size="4.8" class="b" text-anchor="middle" fill="#000" stroke="#000" stroke-width="0.1" textLength="7" lengthAdjust="spacingAndGlyphs" y="1.7">MS</text>
<text x="368.20" y="333.21" font-size="4.4" text-anchor="middle" fill="#222" transform="rotate(0.05 368.20 333.21)" class="b" textLength="7.60" lengthAdjust="spacingAndGlyphs" stroke="#222" stroke-width="0.15">****</text>
<text x="396.10" y="336.01" font-size="4.4" text-anchor="middle" fill="#222" transform="rotate(0.05 396.10 336.01)" class="b" textLength="7.60" lengthAdjust="spacingAndGlyphs" stroke="#222" stroke-width="0.15">****</text>
<text x="396.10" y="343.69" font-size="4.5" text-anchor="middle" fill="#222" transform="rotate(0.05 396.10 343.69)" textLength="3.80" lengthAdjust="spacingAndGlyphs" stroke="#222" stroke-width="0.18">oo</text>
<text x="413.00" y="336.61" font-size="4.4" text-anchor="middle" fill="#222" transform="rotate(0.05 413.00 336.61)" class="b" textLength="7.60" lengthAdjust="spacingAndGlyphs" stroke="#222" stroke-width="0.15">****</text>
<text x="413.20" y="339.99" font-size="4.5" text-anchor="middle" fill="#222" transform="rotate(0.05 413.20 339.99)" stroke="#222" stroke-width="0.18">o</text>
<rect x="337.50" y="374.20" width="7.60" height="4.60" fill="#000"/>
<rect x="361.60" y="374.20" width="7.20" height="4.60" fill="#a3a3a3"/>
<text x="349.60" y="378.80" font-size="6.5" text-anchor="middle" fill="#555" transform="rotate(0.05 349.60 378.80)" textLength="3.00" lengthAdjust="spacingAndGlyphs">B</text>
<text x="373.60" y="378.80" font-size="6.5" text-anchor="middle" fill="#555" transform="rotate(0.05 373.60 378.80)" textLength="3.00" lengthAdjust="spacingAndGlyphs">S</text>
<text x="469.00" y="261.90" font-size="6.8" text-anchor="start" fill="#000" transform="rotate(0.05 469.00 261.90)" class="b" textLength="62.00" lengthAdjust="spacingAndGlyphs" stroke="#000" stroke-width="0.22">GPX Pancreas Female</text>
<path d="M469.00 331.40V325.00M466.00 325.00H472.00" stroke="#000" stroke-width="1" fill="none"/>
<rect x="463.00" y="331.40" width="12.00" height="19.00" fill="#000"/>
<path d="M486.00 330.40V326.60M483.00 326.60H489.00" stroke="#1c1c1c" stroke-width="1" fill="none"/>
<rect x="480.00" y="330.40" width="12.00" height="20.00" fill="#a3a3a3"/>
<path d="M514.00 338.40V336.80M511.00 336.80H517.00" stroke="#000" stroke-width="1" fill="none"/>
<rect x="508.00" y="338.40" width="12.00" height="12.00" fill="#000"/>
<path d="M530.85 322.50V319.70M527.90 319.70H533.60" stroke="#1c1c1c" stroke-width="1" fill="none"/>
<rect x="524.80" y="322.50" width="12.10" height="27.90" fill="#a3a3a3"/>
<path d="M454.60 278.00V350.40H545.00M453.00 350.40H454.60M453.00 336.00H454.60M453.00 321.60H454.60M453.00 307.20H454.60M453.00 292.80H454.60M453.00 278.40H454.60M477.00 350.40V352.30M522.20 350.40V352.30" stroke="#262626" stroke-width="0.78" fill="none"/>
<text x="452.10" y="352.20" font-size="5.0" text-anchor="end" fill="#000" textLength="4.80" lengthAdjust="spacingAndGlyphs" stroke="#000" stroke-width="0.3">0.0</text>
<text x="452.10" y="337.80" font-size="5.0" text-anchor="end" fill="#000" textLength="4.80" lengthAdjust="spacingAndGlyphs" stroke="#000" stroke-width="0.3">0.2</text>
<text x="452.10" y="323.40" font-size="5.0" text-anchor="end" fill="#000" textLength="4.80" lengthAdjust="spacingAndGlyphs" stroke="#000" stroke-width="0.3">0.4</text>
<text x="452.10" y="309.00" font-size="5.0" text-anchor="end" fill="#000" textLength="4.80" lengthAdjust="spacingAndGlyphs" stroke="#000" stroke-width="0.3">0.6</text>
<text x="452.10" y="294.60" font-size="5.0" text-anchor="end" fill="#000" textLength="4.80" lengthAdjust="spacingAndGlyphs" stroke="#000" stroke-width="0.3">0.8</text>
<text x="452.10" y="280.20" font-size="5.0" text-anchor="end" fill="#000" textLength="4.80" lengthAdjust="spacingAndGlyphs" stroke="#000" stroke-width="0.3">1.0</text>
<text transform="translate(475.90 356.00) rotate(-55) scale(1.0)" font-size="5" class="b" text-anchor="middle" fill="#000" stroke="#000" stroke-width="0.22" textLength="3.2" lengthAdjust="spacingAndGlyphs" y="1.8">C</text>
<text transform="translate(519.50 357.80) rotate(-58) scale(1.0)" font-size="4.8" class="b" text-anchor="middle" fill="#000" stroke="#000" stroke-width="0.1" textLength="7" lengthAdjust="spacingAndGlyphs" y="1.7">MS</text>
<text x="514.00" y="328.21" font-size="4.4" text-anchor="middle" fill="#222" transform="rotate(0.05 514.00 328.21)" class="b" textLength="7.60" lengthAdjust="spacingAndGlyphs" stroke="#222" stroke-width="0.15">****</text>
<text transform="rotate(0.05 514.00 332.74)" x="510.20" y="332.74" font-size="2.9" fill="#333" stroke="#333" stroke-width="0.08" class="b" style="font-family:'Liberation Serif',serif" textLength="7.6" lengthAdjust="spacing">‡‡‡‡</text>
<text x="531.90" y="307.31" font-size="4.4" text-anchor="middle" fill="#222" transform="rotate(0.05 531.90 307.31)" class="b" textLength="7.60" lengthAdjust="spacingAndGlyphs" stroke="#222" stroke-width="0.15">****</text>
<text x="531.90" y="311.69" font-size="4.5" text-anchor="middle" fill="#222" transform="rotate(0.05 531.90 311.69)" textLength="7.80" lengthAdjust="spacingAndGlyphs" stroke="#222" stroke-width="0.18">oooo</text>
<text x="531.70" y="317.42" font-size="3.3" text-anchor="middle" fill="#222" transform="rotate(0.05 531.70 317.42)" class="b" textLength="7.00" lengthAdjust="spacingAndGlyphs" stroke="#222" stroke-width="0.25">###</text>
<rect x="456.60" y="368.70" width="7.60" height="4.70" fill="#000"/>
<rect x="482.10" y="368.70" width="7.10" height="4.70" fill="#a3a3a3"/>
<text x="468.70" y="373.35" font-size="6.5" text-anchor="middle" fill="#555" transform="rotate(0.05 468.70 373.35)" textLength="3.00" lengthAdjust="spacingAndGlyphs">B</text>
<text x="494.30" y="373.35" font-size="6.5" text-anchor="middle" fill="#555" transform="rotate(0.05 494.30 373.35)" textLength="3.00" lengthAdjust="spacingAndGlyphs">S</text>
<text transform="translate(9.60 176.00) rotate(-90)" font-size="5.9" class="b" fill="#000" stroke="#000" stroke-width="0.18" textLength="48.00" lengthAdjust="spacingAndGlyphs">U/mg protein</text>
<text transform="translate(7.50 339.60) rotate(-90)" font-size="5.9" class="b" fill="#000" stroke="#000" stroke-width="0.18" textLength="47.60" lengthAdjust="spacingAndGlyphs">U/mg protein</text>
</svg></body></html>
